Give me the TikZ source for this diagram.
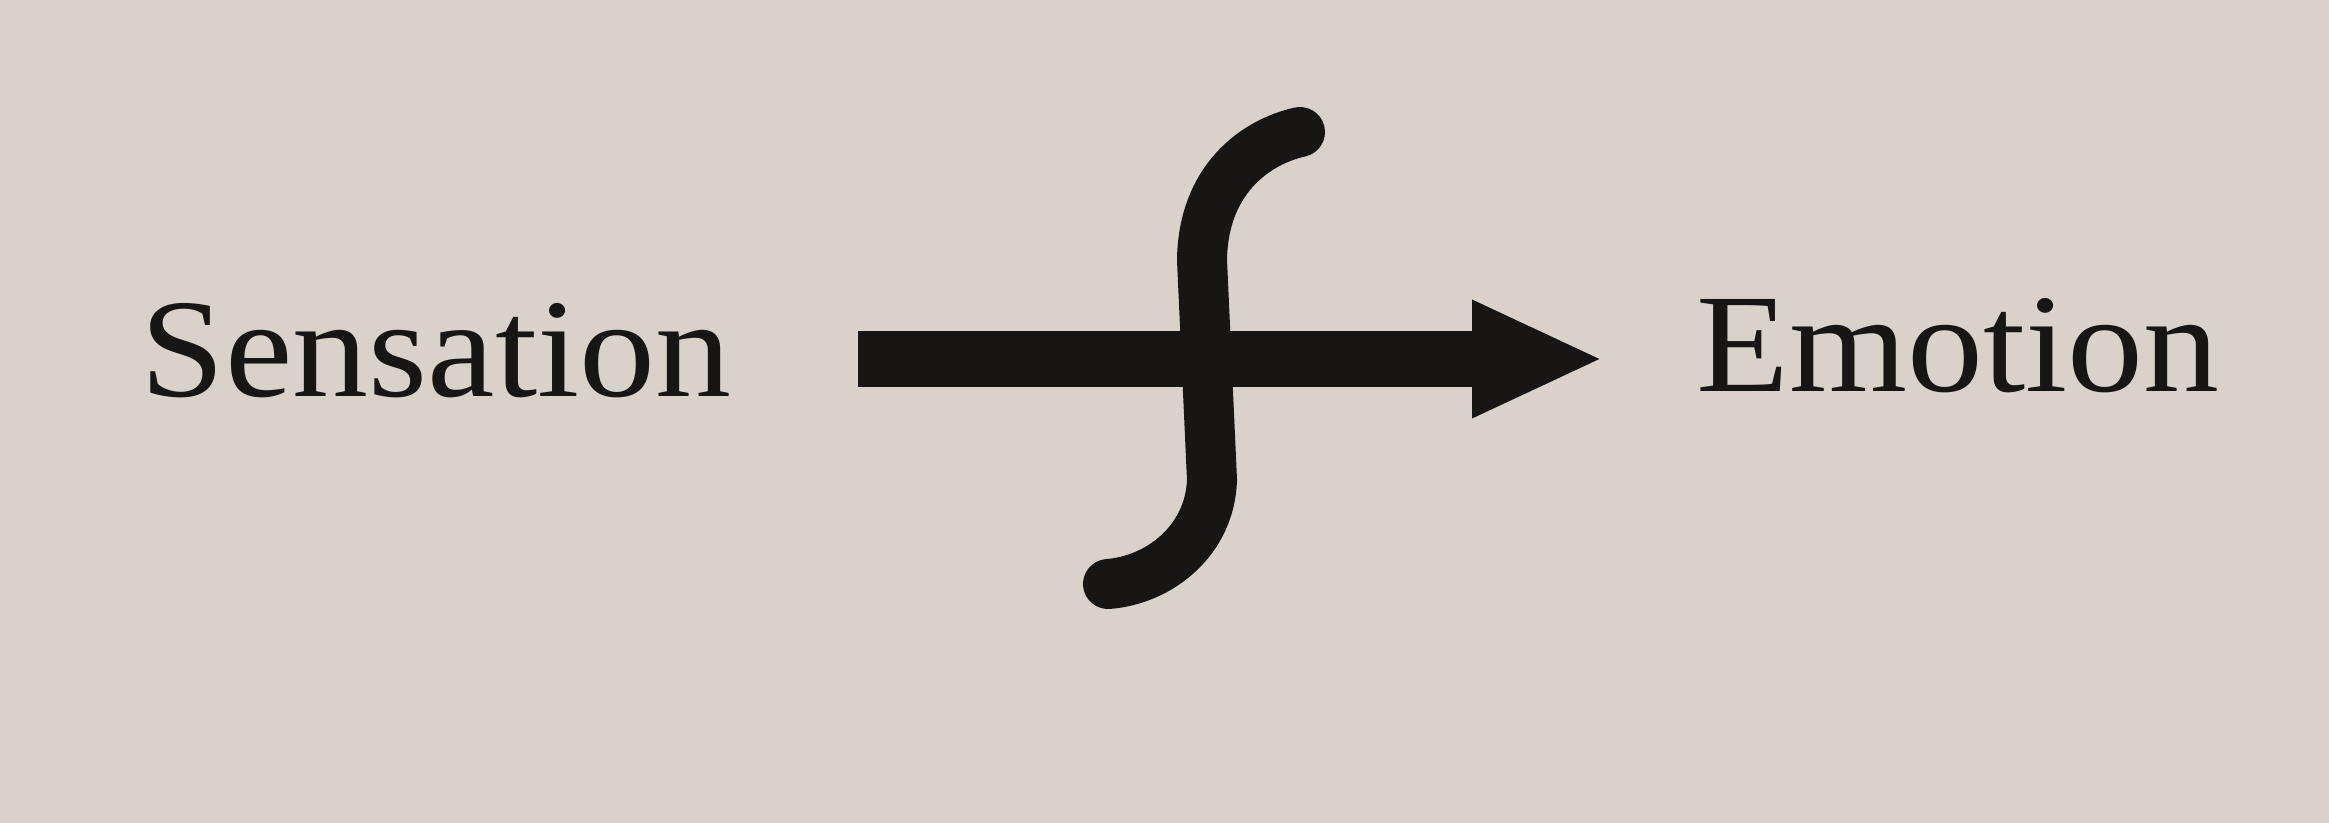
\documentclass[tikz,border=0pt]{standalone}
\usepackage{fontspec}
\setmainfont{Liberation Serif}
\usetikzlibrary{arrows.meta}
\definecolor{paper}{RGB}{216,210,203}
\definecolor{ink}{RGB}{24,21,21}
\begin{document}
\begin{tikzpicture}[
        word/.style={inner sep=0pt, anchor=base, text=ink, xscale=1.08, transform shape, font=\fontsize{40}{48}\selectfont},
        bigarrow/.style={draw=ink, line width=0.56cm, -{Triangle[length=1.32cm, width=1.08cm]}},
        hook/.style={draw=ink, line width=0.5cm, line cap=round}
    ]
    \fill[paper] (0,0) rectangle (23.29,-8.23);
    \useasboundingbox (0,0) rectangle (23.29,-8.23);
    \node[word] (sens) at (4.36,-3.96) {Sensation};
    \node[word] (emo) at (19.58,-3.91) {Emotion};
    \coordinate (tail) at (8.58,-3.59);
    \coordinate (tip) at (16.04,-3.59);
    \coordinate (top) at (13.00,-1.32);
    \coordinate (bot) at (11.08,-5.84);
    \draw[bigarrow] (tail) -- (tip);
    \draw[hook] (top) .. controls (12.55,-1.42) and (12.03,-1.80) .. (12.02,-2.60)
        -- (12.12,-4.80) .. controls (12.10,-5.40) and (11.60,-5.80) .. (bot);
\end{tikzpicture}
\end{document}
